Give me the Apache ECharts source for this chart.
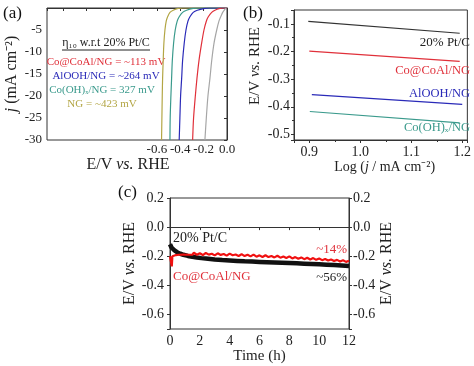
<!DOCTYPE html>
<html><head><meta charset="utf-8">
<script src="https://cdn.jsdelivr.net/npm/echarts@6/dist/echarts.min.js"></script>
<style>html,body{margin:0;padding:0;background:#fff}#c{width:474px;height:366px}</style>
</head><body><div id="c"></div>
<script>
// ---------- Panel (a): polarization curves ----------
const jLevels = [-30, -25, -20, -16, -12, -8, -5, -3, -2, -1, -0.5, -0.1, 0, 0];
const ePtC  = [-0.189, -0.177, -0.163, -0.146, -0.131, -0.111, -0.088, -0.069, -0.054, -0.037, -0.023, -0.012, -0.004, 0];
const eCoAl = [-0.294, -0.286, -0.271, -0.257, -0.240, -0.217, -0.197, -0.177, -0.160, -0.131, -0.103, -0.060, -0.035, 0];
const eAlOOH= [-0.409, -0.403, -0.397, -0.388, -0.380, -0.366, -0.351, -0.334, -0.317, -0.289, -0.254, -0.189, -0.150, 0];
const eCoOH = [-0.488, -0.486, -0.480, -0.474, -0.468, -0.457, -0.443, -0.426, -0.409, -0.380, -0.345, -0.289, -0.240, 0];
const eNG   = [-0.560, -0.557, -0.554, -0.551, -0.546, -0.540, -0.531, -0.520, -0.508, -0.488, -0.460, -0.417, -0.380, 0];

// ---------- Panel (b): Tafel lines ----------
const logJ_PtC   = [0.898, 1.195];  const tafel_PtC   = [-0.091, -0.134];
const logJ_CoAl  = [0.900, 1.195];  const tafel_CoAl  = [-0.199, -0.236];
const logJ_AlOOH = [0.905, 1.200];  const tafel_AlOOH = [-0.356, -0.391];
const logJ_CoOH  = [0.901, 1.195];  const tafel_CoOH  = [-0.417, -0.458];

// ---------- Panel (c): stability ----------
const tPt = [0, 0.05, 0.1, 0.2, 0.3, 0.4, 0.5, 0.7, 0.9, 1.2, 1.5, 1.8, 2.1, 2.4, 2.7, 3.0, 3.5, 4.0, 4.5, 5.0, 5.5, 6.0, 6.5, 7.0, 7.5, 8.0, 8.5, 9.0, 9.5, 10.0, 10.5, 11.0, 11.5, 12.0];
const vPt = [-0.118, -0.13, -0.14, -0.152, -0.16, -0.168, -0.174, -0.183, -0.19, -0.198, -0.204, -0.209, -0.213, -0.216, -0.219, -0.222, -0.226, -0.229, -0.232, -0.235, -0.237, -0.239, -0.241, -0.243, -0.245, -0.247, -0.249, -0.251, -0.253, -0.255, -0.258, -0.261, -0.264, -0.267];
const tCo = [0, 0.08, 0.12, 0.16, 0.25, 0.4, 0.6, 0.9, 1.2, 1.5,
  1.6, 1.8, 2.0, 2.2, 2.4, 2.6, 2.8, 3.0, 3.2, 3.4, 3.6, 3.8, 4.0, 4.2, 4.4, 4.6, 4.8, 5.0, 5.2, 5.4, 5.6, 5.8,
  6.0, 6.2, 6.4, 6.6, 6.8, 7.0, 7.2, 7.4, 7.6, 7.8, 8.0, 8.2, 8.4, 8.6, 8.8, 9.0, 9.2, 9.4, 9.6, 9.8,
  10.0, 10.2, 10.4, 10.6, 10.8, 11.0, 11.2, 11.4, 11.6, 11.8, 12.0];
const vCo = [-0.200, -0.190, -0.270, -0.200, -0.195, -0.192, -0.190, -0.189, -0.190, -0.190,
  -0.176, -0.190, -0.180, -0.192, -0.178, -0.189, -0.183, -0.194, -0.180, -0.191, -0.185, -0.196, -0.182, -0.193, -0.188, -0.198, -0.186, -0.199, -0.190, -0.201, -0.189, -0.203,
  -0.194, -0.205, -0.193, -0.206, -0.198, -0.208, -0.197, -0.210, -0.202, -0.212, -0.201, -0.215, -0.206, -0.217, -0.208, -0.220, -0.211, -0.222, -0.213, -0.225,
  -0.216, -0.227, -0.219, -0.230, -0.222, -0.233, -0.225, -0.236, -0.228, -0.239, -0.231];

const FONT = '"Liberation Serif", "Times New Roman", serif';
const C = { pt: '#a6a6a6', co: '#e0303a', al: '#2a2ab8', oh: '#3a9a8c', ng: '#b3a645', k: '#222' };

function zip(xs, ys) { return xs.map((x, i) => [x, ys[i]]); }
function isTenth(v) { return Math.abs(v * 10 - Math.round(v * 10)) < 1e-6; }

const axisCommon = {
  axisLine: { show: true, lineStyle: { color: '#333', width: 1 } },
  axisTick: { show: true, inside: false, length: 3, lineStyle: { color: '#333' } },
  splitLine: { show: false },
  axisLabel: { color: '#222', fontFamily: FONT, fontSize: 13 },
  nameTextStyle: { color: '#222', fontFamily: FONT, fontSize: 16, fontWeight: 'normal' }
};
function ax(o) { return echarts.util.merge(echarts.util.clone(axisCommon), o, true); }
function richOf(size) {
  return {
    i: { fontStyle: 'italic', fontWeight: 'normal', fontFamily: FONT, fontSize: size, color: '#222' },
    n: { fontWeight: 'normal', fontFamily: FONT, fontSize: size, color: '#222' }
  };
}

const grids = [
  { left: 47, top: 8, width: 180, height: 132, show: true, borderColor: '#333', borderWidth: 1 },
  { left: 294, top: 10, width: 179, height: 130, show: true, borderColor: '#333', borderWidth: 1 },
  { left: 170, top: 198, width: 179, height: 131, show: true, borderColor: '#333', borderWidth: 1 }
];

const xAxes = [
  ax({ type: 'value', gridIndex: 0, min: -1.54, max: 0, splitNumber: 8,
    axisLabel: { margin: 3, formatter: v => (v >= -0.61 && isTenth(v * 0.5)) ? v.toFixed(1) : '' },
    name: '{n|E/V }{i|vs.}{n| RHE}', nameLocation: 'middle', nameGap: 14,
    nameTextStyle: { rich: richOf(16), padding: [0, 18, 0, 0] } }),
  ax({ type: 'value', gridIndex: 1, min: 0.87, max: 1.21, splitNumber: 3,
    minorTick: { show: true, splitNumber: 2, length: 2 },
    axisLabel: { margin: 5, fontSize: 14, formatter: v => isTenth(v) ? v.toFixed(1) : '' },
    name: '{n|Log (}{i|j}{n| / mA cm⁻²)}', nameLocation: 'middle', nameGap: 18,
    nameTextStyle: { rich: richOf(14), padding: [0, 0, 0, 8] } }),
  ax({ type: 'value', gridIndex: 2, min: 0, max: 12, interval: 2,
    axisLabel: { margin: 5, fontSize: 14 },
    name: 'Time (h)', nameLocation: 'middle', nameGap: 20, nameTextStyle: { fontSize: 15 } })
];

const yAxes = [
  ax({ type: 'value', gridIndex: 0, min: -30, max: 0, interval: 5,
    axisLabel: { margin: 5, formatter: v => v < -0.5 ? String(v) : '' },
    name: '{i|j}{n| (mA cm⁻²)}', nameLocation: 'middle', nameGap: 27,
    nameTextStyle: { rich: richOf(16) } }),
  ax({ type: 'value', gridIndex: 1, min: -0.52, max: -0.05, splitNumber: 5,
    minorTick: { show: true, splitNumber: 2, length: 2 },
    axisLabel: { margin: 4, fontSize: 14, formatter: v => isTenth(v) ? v.toFixed(1) : '' },
    name: '{n|E/V }{i|vs.}{n| RHE}', nameLocation: 'middle', nameGap: 31,
    nameTextStyle: { rich: richOf(15), padding: [0, 0, 0, 18] } }),
  ax({ type: 'value', gridIndex: 2, min: -0.7, max: 0.2, splitNumber: 5,
    axisLabel: { margin: 6, fontSize: 14, formatter: v => (isTenth(v * 0.5) && v > -0.65) ? v.toFixed(1) : '' },
    name: '{n|E/V }{i|vs.}{n| RHE}', nameLocation: 'middle', nameGap: 28,
    nameTextStyle: { rich: richOf(16) } }),
  ax({ type: 'value', gridIndex: 2, position: 'right', min: -0.7, max: 0.2, splitNumber: 5,
    axisLabel: { margin: 4, fontSize: 14, formatter: v => (isTenth(v * 0.5) && v > -0.65) ? v.toFixed(1) : '' },
    name: '{n|E/V }{i|vs.}{n| RHE}', nameLocation: 'middle', nameGap: 24, nameRotate: 90,
    nameTextStyle: { rich: richOf(16) } })
];

function line(name, xi, yi, data, color, width, smooth) {
  return { name, type: 'line', xAxisIndex: xi, yAxisIndex: yi, data, showSymbol: false, symbol: 'none',
    smooth: smooth || false, clip: true, lineStyle: { color, width }, itemStyle: { color }, animation: false };
}

const series = [
  line('NG', 0, 0, zip(eNG, jLevels), C.ng, 1.2, 0.3),
  line('Co(OH)x/NG', 0, 0, zip(eCoOH, jLevels), C.oh, 1.2, 0.3),
  line('AlOOH/NG', 0, 0, zip(eAlOOH, jLevels), C.al, 1.2, 0.3),
  line('Co@CoAl/NG', 0, 0, zip(eCoAl, jLevels), C.co, 1.2, 0.3),
  line('20% Pt/C', 0, 0, zip(ePtC, jLevels), C.pt, 1.2, 0.3),
  line('20% Pt/C', 1, 1, zip(logJ_PtC, tafel_PtC), '#333', 1.2),
  line('Co@CoAl/NG', 1, 1, zip(logJ_CoAl, tafel_CoAl), C.co, 1.2),
  line('AlOOH/NG', 1, 1, zip(logJ_AlOOH, tafel_AlOOH), C.al, 1.2),
  line('Co(OH)x/NG', 1, 1, zip(logJ_CoOH, tafel_CoOH), C.oh, 1.2),
  line('20% Pt/C', 2, 2, zip(tPt, vPt), '#111', 4.5),
  line('Co@CoAl/NG', 2, 2, zip(tCo, vCo), '#f01010', 2.2)
];

function txt(x, y, text, color, size, align) {
  return { type: 'text', x, y, silent: true,
    style: { text, fill: color, font: size + 'px ' + FONT, align: align || 'left', textAlign: align || 'left',
      verticalAlign: 'middle', textVerticalAlign: 'middle' } };
}

const graphic = [
  txt(3, 14, '(a)', '#111', 17),
  txt(243, 14, '(b)', '#111', 17),
  txt(118, 193, '(c)', '#111', 17),
  // panel (a) legend text
  txt(106, 43, 'η₁₀ w.r.t 20% Pt/C', '#222', 12, 'center'),
  { type: 'line', silent: true, shape: { x1: 62, y1: 50, x2: 150, y2: 50 }, style: { stroke: '#222', lineWidth: 1 } },
  txt(106, 62, 'Co@CoAl/NG = ~113 mV', C.co, 11, 'center'),
  txt(106, 76, 'AlOOH/NG = ~264 mV', C.al, 11, 'center'),
  txt(102, 90, 'Co(OH)ₓ/NG = 327 mV', C.oh, 11, 'center'),
  txt(102, 104, 'NG = ~423 mV', C.ng, 11, 'center'),
  // panel (b) labels
  txt(470, 43, '20% Pt/C', '#222', 13, 'right'),
  txt(470, 71, 'Co@CoAl/NG', C.co, 12.5, 'right'),
  txt(470, 94, 'AlOOH/NG', C.al, 12.5, 'right'),
  txt(470, 128, 'Co(OH)ₓ/NG', C.oh, 12.5, 'right'),
  // panel (c) labels
  txt(173, 238, '20% Pt/C', '#222', 14),
  txt(173, 277, 'Co@CoAl/NG', C.co, 13),
  txt(347, 250, '~14%', C.co, 13, 'right'),
  txt(347, 278, '~56%', '#222', 13, 'right')
];

const chart = echarts.init(document.getElementById('c'), null, { renderer: 'canvas' });
chart.setOption({ animation: false, backgroundColor: '#fff', grid: grids, xAxis: xAxes, yAxis: yAxes, series, graphic });
</script></body></html>
